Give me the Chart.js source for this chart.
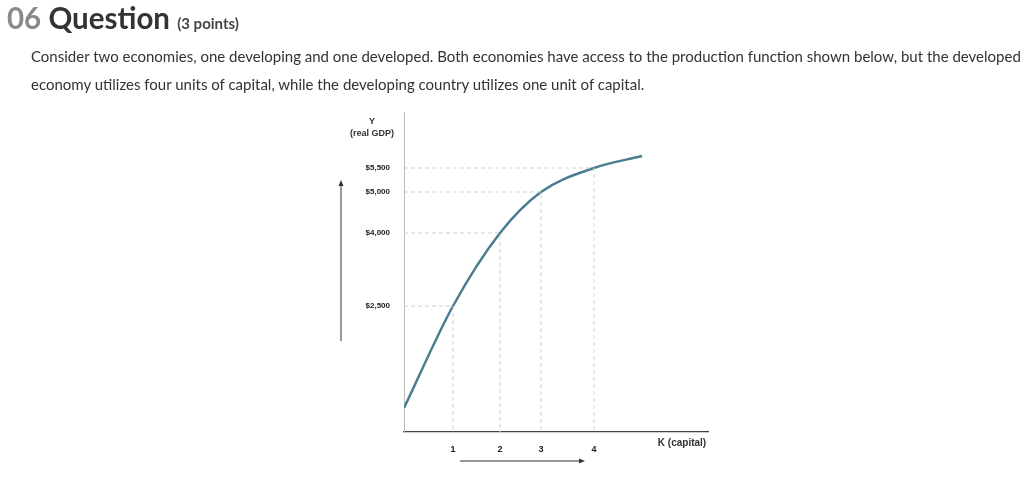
<!DOCTYPE html>
<html><head><meta charset="utf-8">
<script src="https://cdn.jsdelivr.net/npm/chart.js@4"></script>
<style>
body{margin:0;width:1031px;height:492px;background:#fff;font-family:Lato,sans-serif;overflow:hidden;position:relative}
#c{position:absolute;left:0;top:0}
.h{position:absolute;left:7px;top:0px;font-weight:bold;font-size:29.5px;color:#333;white-space:nowrap}
.h .n{color:#8a8a8a}.h .p{font-size:15px;font-weight:bold;color:#444}
.t{position:absolute;left:31px;top:42px;width:1000px;font-size:15px;line-height:28px;color:#333}
</style></head><body>
<canvas id="c" width="1031" height="492"></canvas>
<div class="h"><span class="n">06</span> Question <span class="p">(3 points)</span></div>
<div class="t">Consider two economies, one developing and one developed. Both economies have access to the production function shown below, but the developed economy utilizes four units of capital, while the developing country utilizes one unit of capital.</div>
<script>
// axis units are chart (drawing) units; labels are the values shown
const kTicks=[49,96,137,190];
const kLabels=['1','2','3','4'];
const yTicks=[126,199,240,264];
const yLabels=['$2,500','$4,000','$5,000','$5,500'];
const curveX=[0,49,96,137,190,238];
const curveY=[24,126,199,240,264,276];

const guides=kTicks.map((k,i)=>({
  data:[{x:0,y:yTicks[i]},{x:k,y:yTicks[i]},{x:k,y:0}],
  borderColor:'#cfcfcf',borderWidth:1,borderDash:[4,3],pointRadius:0,fill:false,tension:0
}));
const extra={
  id:'extra',
  afterDraw(ch){
    const c=ch.ctx;c.save();
    c.fillStyle='#333';c.font='bold 9px Arial';c.textAlign='center';
    c.fillText('Y',372,124);c.fillText('(real GDP)',372,136);
    c.font='bold 10px Arial';
    c.fillText('K (capital)',682,446);
    c.strokeStyle='#333';c.lineWidth=1;
    c.beginPath();c.moveTo(341,341);c.lineTo(341,185);c.stroke();
    c.beginPath();c.moveTo(341,180);c.lineTo(338.5,186);c.lineTo(343.5,186);c.fill();
    c.beginPath();c.moveTo(460,461);c.lineTo(580,461);c.stroke();
    c.beginPath();c.moveTo(585,461);c.lineTo(579,458.5);c.lineTo(579,463.5);c.fill();
    c.restore();
  }
};
new Chart(document.getElementById('c'),{
  type:'line',
  data:{datasets:[...guides,{
    data:curveX.map((x,i)=>({x,y:curveY[i]})),
    borderColor:'#4a7d91',borderWidth:2.5,pointRadius:0,cubicInterpolationMode:'monotone',fill:false
  }]},
  options:{responsive:false,animation:false,
    layout:{padding:{top:112,right:323,left:0,bottom:0}},
    plugins:{legend:{display:false},tooltip:{enabled:false}},
    scales:{
      x:{type:'linear',min:0,max:304,grid:{display:false},border:{color:'#444',width:1.2},
        afterFit(s){s.height=60;},
        afterBuildTicks(s){s.ticks=kTicks.map(v=>({value:v}));},
        ticks:{autoSkip:false,maxRotation:0,padding:4,color:'#222',font:{family:'Arial',size:9,weight:'bold'},
          callback:(v)=>kLabels[kTicks.indexOf(v)]}},
      y:{type:'linear',min:0,max:320,grid:{display:false},border:{color:'#bbb',width:1},
        afterFit(s){s.width=404;},
        afterBuildTicks(s){s.ticks=yTicks.map(v=>({value:v}));},
        ticks:{autoSkip:false,padding:6,color:'#222',font:{family:'Arial',size:8,weight:'bold'},
          callback:(v)=>yLabels[yTicks.indexOf(v)]}}
    }},
  plugins:[extra]
});
</script></body></html>
